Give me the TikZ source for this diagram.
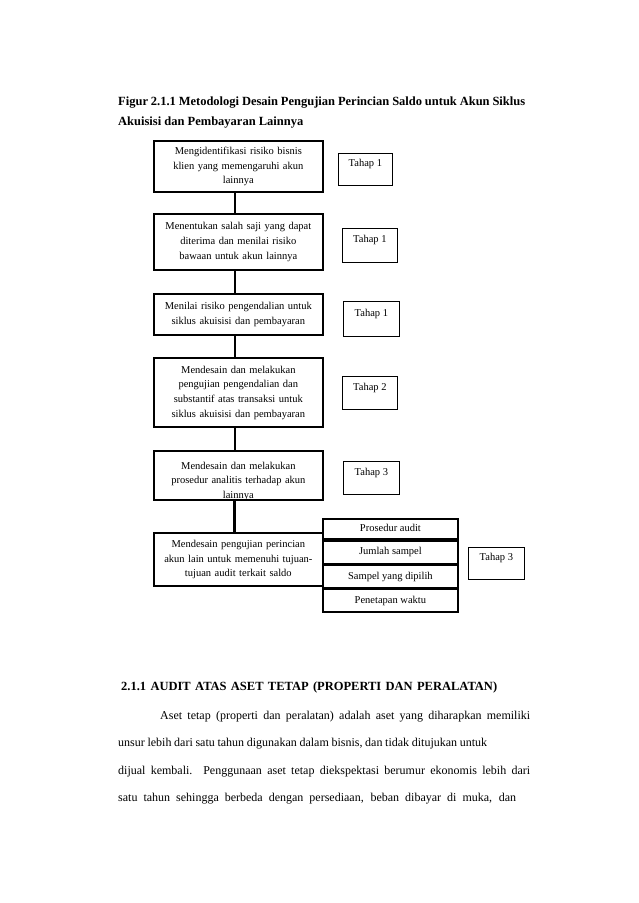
\documentclass[tikz,border=0pt]{standalone}
\usepackage{fontspec}
\setmainfont{Liberation Serif}
\usetikzlibrary{positioning}

\begin{document}
\begin{tikzpicture}[
  x=1pt, y=-1pt,
  font=\fontsize{10.5}{14.7}\selectfont,
  proc/.style={draw=black, line width=2.2pt, align=center, inner sep=0pt,
               text width=166pt, minimum width=168.5pt, anchor=north west},
  tahap/.style={draw=black, line width=0.8pt, inner sep=0pt, anchor=north west,
                text height=7pt, text depth=12pt},
  item/.style={draw=black, line width=1.8pt, inner sep=0pt, minimum width=135pt,
               text height=7.5pt, text depth=2.5pt},
  link/.style={line width=2.4pt},
  txt/.style={font=\fontsize{12}{15}\selectfont, inner sep=0pt, anchor=base west},
  bold/.style={txt, font=\fontsize{12.5}{15}\selectfont\bfseries}
]
\useasboundingbox (0,0) rectangle (638,903);

\node[bold] (cap1) at (118,105) {\makebox[407pt][s]{Figur 2.1.1 Metodologi Desain Pengujian Perincian Saldo untuk Akun Siklus}};
\node[bold] (cap2) at (118,125) {Akuisisi dan Pembayaran Lainnya};

\node[proc, minimum height=51pt] (p1) at (153,140) {Mengidentifikasi risiko bisnis\\klien yang memengaruhi akun\\lainnya};
\node[proc, minimum height=56pt] (p2) at (153,213) {Menentukan salah saji yang dapat\\diterima dan menilai risiko\\bawaan untuk akun lainnya};
\node[proc, minimum height=41pt] (p3) at (153,293) {Menilai risiko pengendalian untuk\\siklus akuisisi dan pembayaran};
\node[proc, minimum height=69pt] (p4) at (153,357) {Mendesain dan melakukan\\pengujian pengendalian dan\\substantif atas transaksi untuk\\siklus akuisisi dan pembayaran};
\begin{scope}
  \clip (140,440) rectangle (340,500.6);
  \node[proc, minimum height=49pt, text height=18.5pt, text depth=30.5pt] (p5) at (153,450) {Mendesain dan melakukan\\[-0.7pt]prosedur analitis terhadap akun\\lainnya};
\end{scope}
\node[proc, minimum height=53pt] (p6) at (153,532) {Mendesain pengujian perincian\\akun lain untuk memenuhi tujuan-\\tujuan audit terkait saldo};

\node[tahap, minimum width=54pt, minimum height=32pt] (t1) at (338,153) {Tahap 1};
\node[tahap, minimum width=55pt, minimum height=34pt] (t2) at (342,228) {Tahap 1};
\node[tahap, minimum width=56pt, minimum height=35pt] (t3) at (343,301) {Tahap 1};
\node[tahap, minimum width=55pt, minimum height=33pt] (t4) at (342,376) {Tahap 2};
\node[tahap, minimum width=56pt, minimum height=33pt] (t5) at (343,461) {Tahap 3};
\node[tahap, minimum width=56pt, minimum height=32pt] (t6) at (468,547) {Tahap 3};

\node[item, minimum height=20pt, anchor=north west] (r1) at (322,518) {Prosedur audit};
\node[item, minimum height=23pt, below=0pt of r1] (r2) {Jumlah sampel};
\node[item, minimum height=22pt, below=0pt of r2] (r3) {Sampel yang dipilih};
\node[item, minimum height=23pt, below=0pt of r3] (r4) {Penetapan waktu};

\draw[link] ([xshift=-3.5pt]p1.south) -- ([xshift=-3.5pt]p2.north);
\draw[link] ([xshift=-3.5pt]p2.south) -- ([xshift=-3.5pt]p3.north);
\draw[link] ([xshift=-3.5pt]p3.south) -- ([xshift=-3.5pt]p4.north);
\draw[link] ([xshift=-3.5pt]p4.south) -- ([xshift=-3.5pt]p5.north);
\draw[link] ([xshift=-4pt]p5.south) -- ([xshift=-4pt]p6.north);

\node[bold] (head) at (121,690.5) {\makebox[376pt][s]{2.1.1 AUDIT ATAS ASET TETAP  (PROPERTI  DAN PERALATAN)}};
\node[txt] (par1) at (160,719) {\makebox[370pt][s]{Aset tetap (properti dan peralatan) adalah aset yang diharapkan memiliki}};
\node[txt] (par2) at (118,746) {\makebox[369pt][s]{unsur lebih dari satu tahun digunakan dalam bisnis, dan tidak ditujukan untuk}};
\node[txt] (par3) at (118,774) {\makebox[412pt][s]{dijual kembali. Penggunaan aset tetap diekspektasi berumur ekonomis lebih dari}};
\node[txt] (par4) at (118,801) {\makebox[398pt][s]{satu tahun sehingga berbeda dengan persediaan, beban dibayar di muka, dan}};
\end{tikzpicture}
\end{document}
